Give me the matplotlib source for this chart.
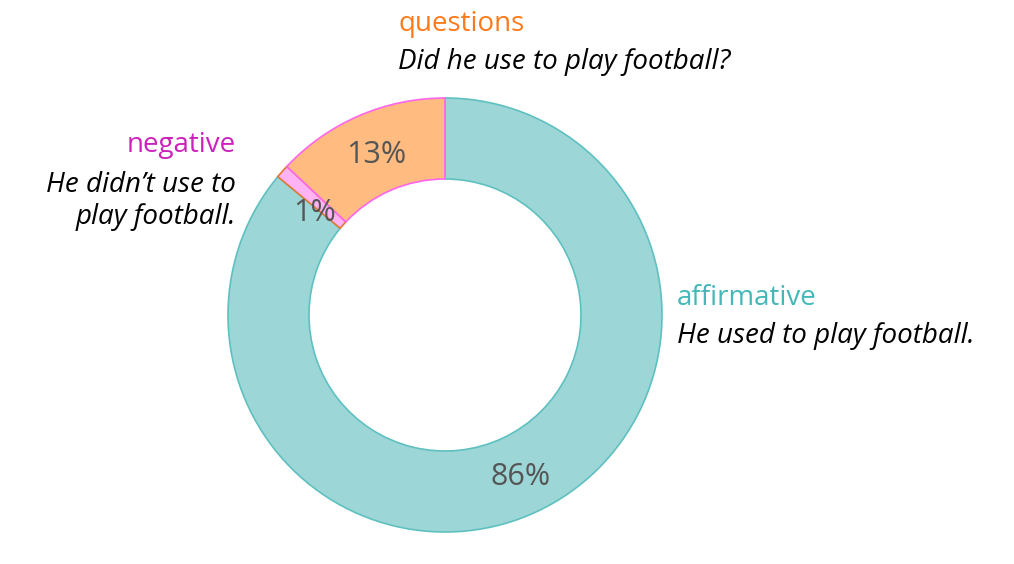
import matplotlib.pyplot as plt

labels = ["affirmative", "negative", "questions"]
values = [86, 1, 13]
examples = ["He used to play football.", "He didn\u2019t use to\nplay football.", "Did he use to play football?"]
pct_labels = ["86%", "1%", "13%"]

plt.rcParams['font.family'] = ['Open Sans', 'DejaVu Sans']

fig = plt.figure(figsize=(10.14, 5.64), dpi=100)
ax = fig.add_axes([0, 0, 1, 1])

cx, cy, r = 445, 564 - 315, 217
wedges, _ = ax.pie(values, colors=["#9dd6d6", "#ffb3f5", "#ffbb80"],
                   startangle=90, counterclock=False, center=(cx, cy), radius=r,
                   wedgeprops=dict(width=81, linewidth=1.2),
                   frame=True)
for w, ec in zip(wedges, ["#5fc0c0", "#e07a30", "#ff66ee"]):
    w.set_edgecolor(ec)
ax.set_xlim(0, 1014)
ax.set_ylim(0, 564)
ax.set_aspect('equal')
ax.axis('off')

pct_pos = [(521, 477), (315, 213), (376, 155)]
for t, (x, y) in zip(pct_labels, pct_pos):
    ax.text(x, 564 - y, t, fontsize=22, color="#555555", ha='center', va='center')

fs = 20
ax.text(398, 564 - 24, labels[2], fontsize=fs, color="#ff7a1a", va='center')
ax.text(398, 564 - 62, examples[2], fontsize=fs, style='italic', color="black", va='center')
ax.text(236, 564 - 145, labels[1], fontsize=fs, color="#cc22bb", ha='right', va='center')
ax.text(236, 564 - 201, examples[1], fontsize=fs, style='italic', color="black",
        ha='right', va='center', linespacing=1.2)
ax.text(677, 564 - 298, labels[0], fontsize=fs, color="#44b8b8", va='center')
ax.text(677, 564 - 336, examples[0], fontsize=fs, style='italic', color="black", va='center')

fig.savefig("out.png", dpi=100)
